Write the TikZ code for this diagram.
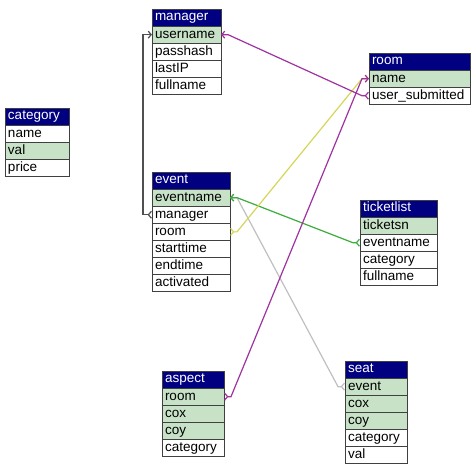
\documentclass[tikz,border=0pt]{standalone}
\usepackage{fontspec}
\setmainfont{Liberation Sans}
\usetikzlibrary{arrows.meta,calc}
\definecolor{hdrblue}{RGB}{0,0,128}
\definecolor{keygreen}{RGB}{200,226,200}
\definecolor{cdark}{RGB}{80,80,80}
\definecolor{cpurple}{RGB}{160,50,160}
\definecolor{cyellow}{RGB}{214,214,90}
\definecolor{cgreen}{RGB}{60,172,60}
\definecolor{cgray}{RGB}{192,192,192}
\begin{document}
\begin{tikzpicture}[x=1pt,y=-1pt,
  cellbase/.style={draw=black!75, line width=0.9pt, anchor=north west, outer sep=0pt,
    minimum height=17.1pt, inner xsep=3pt, inner ysep=0pt,
    text width=#1, align=left, text height=9.6pt, text depth=2.8pt,
    font=\fontsize{13.5}{14}\selectfont},
  tblhdr/.style={cellbase=#1, fill=hdrblue, text=white},
  tblkey/.style={cellbase=#1, fill=keygreen},
  tblrow/.style={cellbase=#1, fill=white},
  conn/.style={line width=1.2pt,
    {Straight Barb[reversed,length=3pt,width=7pt]}-{Straight Barb[length=3pt,width=7pt]}},
]
\useasboundingbox (0,0) rectangle (474,474);
\fill[white] (0,0) rectangle (474,474);

% manager
\node[tblhdr=63pt] (m) at (152,9) {manager};
\node[tblkey=63pt] (m-username) at (m.south west) {username};
\node[tblrow=63pt] (m-passhash) at (m-username.south west) {passhash};
\node[tblrow=63pt] (m-lastip) at (m-passhash.south west) {lastIP};
\node[tblrow=63pt] (m-fullname) at (m-lastip.south west) {fullname};

% room
\node[tblhdr=95pt] (r) at (369,53) {room};
\node[tblkey=95pt] (r-name) at (r.south west) {name};
\node[tblrow=95pt] (r-user) at (r-name.south west) {user\_submitted};

% category
\node[tblhdr=58pt] (c) at (5,108) {category};
\node[tblrow=58pt] (c-name) at (c.south west) {name};
\node[tblkey=58pt] (c-val) at (c-name.south west) {val};
\node[tblrow=58pt] (c-price) at (c-val.south west) {price};

% event
\node[tblhdr=72pt] (e) at (152,172) {event};
\node[tblkey=72pt] (e-eventname) at (e.south west) {eventname};
\node[tblrow=72pt] (e-manager) at (e-eventname.south west) {manager};
\node[tblrow=72pt] (e-room) at (e-manager.south west) {room};
\node[tblrow=72pt] (e-start) at (e-room.south west) {starttime};
\node[tblrow=72pt] (e-end) at (e-start.south west) {endtime};
\node[tblrow=72pt] (e-act) at (e-end.south west) {activated};

% ticketlist
\node[tblhdr=71pt] (t) at (360,200) {ticketlist};
\node[tblkey=71pt] (t-sn) at (t.south west) {ticketsn};
\node[tblrow=71pt] (t-eventname) at (t-sn.south west) {eventname};
\node[tblrow=71pt] (t-category) at (t-eventname.south west) {category};
\node[tblrow=71pt] (t-fullname) at (t-category.south west) {fullname};

% aspect
\node[tblhdr=56pt] (a) at (162,371) {aspect};
\node[tblkey=56pt] (a-room) at (a.south west) {room};
\node[tblkey=56pt] (a-cox) at (a-room.south west) {cox};
\node[tblkey=56pt] (a-coy) at (a-cox.south west) {coy};
\node[tblrow=56pt] (a-category) at (a-coy.south west) {category};

% seat
\node[tblhdr=56pt] (s) at (345,361) {seat};
\node[tblkey=56pt] (s-event) at (s.south west) {event};
\node[tblkey=56pt] (s-cox) at (s-event.south west) {cox};
\node[tblkey=56pt] (s-coy) at (s-cox.south west) {coy};
\node[tblrow=56pt] (s-category) at (s-coy.south west) {category};
\node[tblrow=56pt] (s-val) at (s-category.south west) {val};

% connectors
\draw[conn, cgray] (s-event.west) -- ++(-7,0) -- ($(e-eventname.east)+(7,0)$) -- (e-eventname.east);
\draw[conn, cdark] (e-manager.west) -- ++(-9,0) |- (m-username.west);
\draw[conn, cgreen] (t-eventname.west) -- ++(-7,0) -- ($(e-eventname.east)+(7,0)$) -- (e-eventname.east);
\draw[conn, cyellow] (e-room.east) -- ++(7,0) -- ($(r-name.west)+(-7,0)$) -- (r-name.west);
\draw[conn, cpurple] (a-room.east) -- ++(7,0) -- ($(r-name.west)+(-7,0)$) -- (r-name.west);
\draw[conn, cpurple] (r-user.west) -- ++(-7,0) -- ($(m-username.east)+(7,0)$) -- (m-username.east);
\end{tikzpicture}
\end{document}
